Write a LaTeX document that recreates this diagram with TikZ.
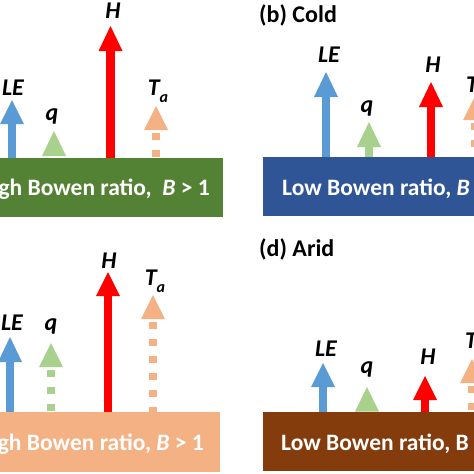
\documentclass[tikz,border=0pt]{standalone}
\usepackage{fontspec}
\setmainfont{Carlito}
\definecolor{cblue}{HTML}{5B9BD5}
\definecolor{cgreen}{HTML}{A9D18E}
\definecolor{cred}{HTML}{FF0000}
\definecolor{cpeach}{HTML}{F4B183}
\definecolor{boxA}{HTML}{548235}
\definecolor{boxB}{HTML}{2F5597}
\definecolor{boxC}{HTML}{F4B183}
\definecolor{boxD}{HTML}{843C0C}
\newcommand\fluxarrow[7]{%
  \coordinate (#1tip) at (#3,#4);
  \coordinate (#1neck) at (#3,#5);
  \coordinate (#1foot) at (#3,#6);
  \draw[#2,#7] (#1neck) -- (#1foot);
  \fill[#2] ([xshift=-12pt]#1neck) -- (#1tip) -- ([xshift=12pt]#1neck) -- cycle;
}
\newcommand\subA{\raisebox{-0.3em}{\fontsize{16}{16}\selectfont a}}
\begin{document}
\begin{tikzpicture}[x=1pt,y=-1pt,
  lab/.style={font=\fontsize{24}{24}\selectfont\bfseries\itshape, inner sep=0pt, anchor=base},
  boxtext/.style={font=\fontsize{23.5}{23.5}\selectfont\bfseries, text=white, inner sep=0pt},
  ttl/.style={font=\fontsize{24}{24}\selectfont\bfseries, inner sep=0pt, anchor=base west},
  shaft/.style={line width=8.5pt},
  dshaft/.style={line width=8.5pt, dash pattern=on 7pt off 10pt, dash phase=14pt},
  noshaft/.style={draw=none}]
\useasboundingbox (0,0) rectangle (474,474);
\clip (0,0) rectangle (474,474);
\fill[white] (0,0) rectangle (474,474);

% ---------- panel (a) ----------
\fill[boxA] (-80,158) rectangle (223,217);
\node[boxtext, anchor=base east] (txa) at (210,195) {High Bowen ratio,\ \ \textit{B} > 1};
\fluxarrow{aLE}{cblue}{12}{100}{124}{158}{shaft}
\fluxarrow{aq}{cgreen}{54}{131}{156}{158}{noshaft}
\fluxarrow{aH}{cred}{110.5}{26}{51}{158}{shaft}
\fluxarrow{aT}{cpeach}{156}{106}{130}{158}{dshaft}
\node[lab] (laLE) at (13,95) {LE};
\node[lab] (laq) at (52,120) {q};
\node[lab] (laH) at (113,18) {H};
\node[lab] (laT) at (158,95) {T\subA};

% ---------- panel (b) ----------
\node[ttl] (tb) at (259,22) {(b) Cold};
\fill[boxB] (263,157) rectangle (520,216);
\node[boxtext, anchor=base west] (txb) at (282,195) {Low Bowen ratio, \textit{B} < 1};
\fluxarrow{bLE}{cblue}{326}{72}{97}{157}{shaft}
\fluxarrow{bq}{cgreen}{369}{122}{147}{157}{shaft}
\fluxarrow{bH}{cred}{431}{82}{107}{157}{shaft}
\fluxarrow{bT}{cpeach}{475}{96}{120}{157}{dshaft}
\node[lab] (lbLE) at (329,62) {LE};
\node[lab] (lbq) at (367,112) {q};
\node[lab] (lbH) at (433,72) {H};
\node[lab, anchor=base west] (lbT) at (466,92) {T\subA};

% ---------- panel (c) ----------
\fill[boxC] (-80,412) rectangle (220,472);
\node[boxtext, anchor=base east] (txc) at (204,450) {High Bowen ratio, \textit{B} > 1};
\fluxarrow{cLE}{cblue}{10}{337}{362}{412}{shaft}
\fluxarrow{cq}{cgreen}{51}{343}{367}{412}{dshaft}
\fluxarrow{cH}{cred}{108}{272}{296}{412}{shaft}
\fluxarrow{cT}{cpeach}{153}{295}{319}{412}{dshaft}
\node[lab] (lcLE) at (12,330) {LE};
\node[lab] (lcq) at (51,330) {q};
\node[lab] (lcH) at (109,268) {H};
\node[lab] (lcT) at (155,285) {T\subA};

% ---------- panel (d) ----------
\node[ttl] (td) at (259,256) {(d) Arid};
\fill[boxD] (263,412) rectangle (520,471);
\node[boxtext, anchor=base west] (txd) at (281,450) {Low Bowen ratio, B < 1};
\fluxarrow{dLE}{cblue}{323}{363}{387}{412}{shaft}
\fluxarrow{dq}{cgreen}{367}{387}{411.5}{412}{noshaft}
\fluxarrow{dH}{cred}{425}{376}{400}{412}{shaft}
\fluxarrow{dT}{cpeach}{472}{359}{383}{412}{dshaft}
\node[lab] (ldLE) at (326,356) {LE};
\node[lab] (ldq) at (367,373) {q};
\node[lab] (ldH) at (428,364) {H};
\node[lab, anchor=base west] (ldT) at (465,348) {T\subA};
\end{tikzpicture}
\end{document}
